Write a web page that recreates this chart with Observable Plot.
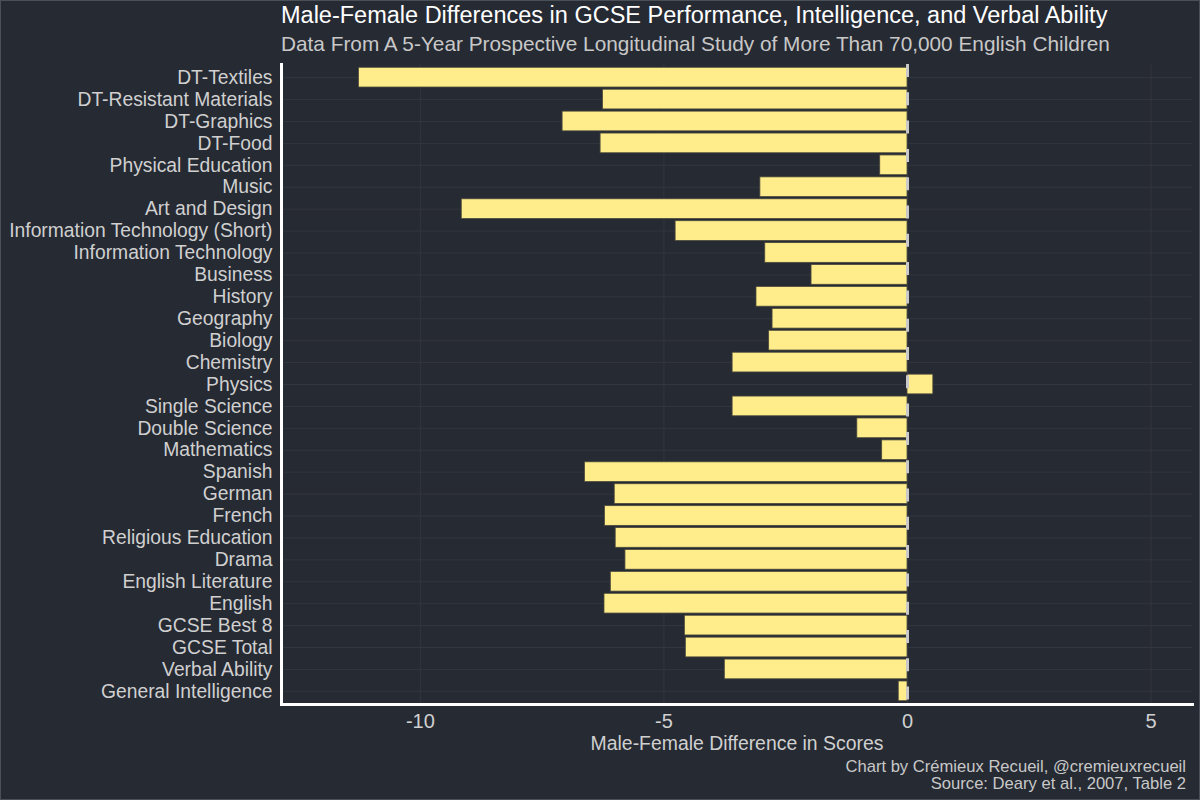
<!DOCTYPE html>
<html>
<head>
<meta charset="utf-8">
<script src="https://cdn.jsdelivr.net/npm/d3@7"></script>
<script src="https://cdn.jsdelivr.net/npm/@observablehq/plot@0.6"></script>
<style>
  html, body { margin: 0; padding: 0; background: #262a33; }
  #wrap { position: relative; width: 1200px; height: 800px; background: #262a33; overflow: hidden;
          font-family: "Liberation Sans", Arial, Helvetica, sans-serif; }
  #title { position: absolute; left: 281px; top: 4px; font-size: 23.5px; line-height: 23.5px; color: #ffffff; white-space: nowrap; }
  #subtitle { position: absolute; left: 281px; top: 34px; font-size: 20.8px; line-height: 20.8px; color: #c8c8c8; white-space: nowrap; }
  #chart { position: absolute; left: 0; top: 56px; }
  #caption { position: absolute; right: 14px; top: 758px; font-size: 16.6px; line-height: 17px; color: #c8c8c8; text-align: right; white-space: nowrap; }
  #border { position: absolute; left: 0; top: 0; width: 1198px; height: 798px; border: 1px solid #4b5058; pointer-events: none; }
</style>
</head>
<body>
<div id="wrap">
  <div id="title"></div>
  <div id="subtitle"></div>
  <div id="chart"></div>
  <div id="caption"></div>
  <div id="border"></div>
</div>
<script>
const titleText = "Male-Female Differences in GCSE Performance, Intelligence, and Verbal Ability";
const subtitleText = "Data From A 5-Year Prospective Longitudinal Study of More Than 70,000 English Children";
const captionLines = ["Chart by Crémieux Recueil, @cremieuxrecueil", "Source: Deary et al., 2007, Table 2"];
const xAxisTitle = "Male-Female Difference in Scores";

const subjects = [
  "DT-Textiles", "DT-Resistant Materials", "DT-Graphics", "DT-Food", "Physical Education",
  "Music", "Art and Design", "Information Technology (Short)", "Information Technology", "Business",
  "History", "Geography", "Biology", "Chemistry", "Physics",
  "Single Science", "Double Science", "Mathematics", "Spanish", "German",
  "French", "Religious Education", "Drama", "English Literature", "English",
  "GCSE Best 8", "GCSE Total", "Verbal Ability", "General Intelligence"
];
const differences = [
  -11.26, -6.25, -7.08, -6.30, -0.56,
  -3.02, -9.15, -4.76, -2.92, -1.97,
  -3.10, -2.77, -2.84, -3.59, 0.53,
  -3.59, -1.03, -0.52, -6.62, -6.01,
  -6.21, -5.99, -5.79, -6.09, -6.22,
  -4.57, -4.55, -3.75, -0.18
];
const xTicks = [-10, -5, 0, 5];
const xDomain = [-12.85, 5.85];

const data = subjects.map((s, i) => ({subject: s, diff: differences[i]}));

document.getElementById("title").textContent = titleText;
document.getElementById("subtitle").textContent = subtitleText;
document.getElementById("caption").innerHTML = captionLines.map(l => `<div>${l}</div>`).join("");

const gridColor = "#32363f";

const chart = Plot.plot({
  width: 1200,
  height: 700,
  marginTop: 8,
  marginBottom: 52,
  marginLeft: 281,
  marginRight: 8,
  style: {background: "transparent", color: "#d0d0d0", fontFamily: "'Liberation Sans', Arial, sans-serif"},
  x: {domain: xDomain, ticks: xTicks},
  y: {domain: subjects, paddingInner: 0.1, paddingOuter: 0.15, round: false},
  marks: [
    Plot.gridX(xTicks, {stroke: gridColor, strokeOpacity: 1, strokeWidth: 1}),
    Plot.gridY({stroke: gridColor, strokeOpacity: 1, strokeWidth: 1}),
    Plot.barX(data, {x: "diff", y: "subject", fill: "#FFEC8B", stroke: "#4a4a3c", strokeWidth: 0.8}),
    Plot.ruleX([0], {stroke: "#c9c9c9", strokeWidth: 3, strokeDasharray: "13,15.3"}),
    Plot.frame({anchor: "left", stroke: "#ffffff", strokeWidth: 3}),
    Plot.frame({anchor: "bottom", stroke: "#ffffff", strokeWidth: 3}),
    Plot.axisY({tickSize: 0, tickPadding: 9, fontSize: 19.3, label: null, fill: "#d0d0d0"}),
    Plot.axisX(xTicks, {tickSize: 0, tickPadding: 9, fontSize: 20, label: null, tickFormat: d => String(d), fill: "#d0d0d0"}),
    Plot.text([xAxisTitle], {frameAnchor: "bottom", dy: 45, fontSize: 19.4, fill: "#d0d0d0"})
  ]
});
document.getElementById("chart").appendChild(chart);
</script>
</body>
</html>
